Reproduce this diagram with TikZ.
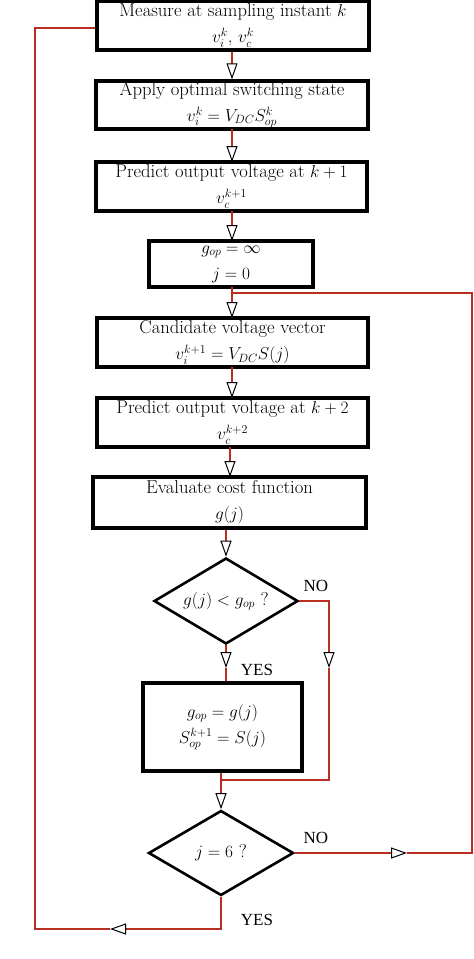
\documentclass[tikz,border=0pt]{standalone}
\usepackage{fontspec}
\newfontfamily\timesf{Liberation Serif}
\usetikzlibrary{arrows.meta,shapes.geometric}
\definecolor{flowred}{RGB}{185,45,35}
\tikzset{
  box/.style={draw=black,line width=3.5pt,rectangle,inner sep=0pt,align=center,
    font=\fontsize{18.6}{26}\selectfont},
  dec/.style={draw=black,line width=2.6pt,diamond,aspect=1.67,inner sep=0pt,
    font=\fontsize{18.6}{26}\selectfont},
  flow/.style={draw=flowred,line width=2.2pt},
  tip/.style={-{Triangle[length=16pt,width=11pt,color=black,fill=white,line width=1pt]}},
  lbl/.style={font=\timesf\fontsize{17}{20}\selectfont,inner sep=0pt}
}
\begin{document}
\begin{tikzpicture}[x=1pt,y=-1pt]
\useasboundingbox (0,0) rectangle (474,959);
% boxes
\node[box,minimum width=272pt,minimum height=49pt] (b1) at (233,25.5)
  {Measure at sampling instant $k$\\$v_i^k$, $v_c^k$};
\node[box,minimum width=272pt,minimum height=48pt] (b2) at (232,105)
  {Apply optimal switching state\\$v_i^k = V_{DC}S_{op}^k$};
\node[box,minimum width=271pt,minimum height=49pt] (b3) at (231.5,186.5)
  {Predict output voltage at $k+1$\\$v_c^{k+1}$};
\node[box,minimum width=164pt,minimum height=46pt] (b4) at (231,264)
  {$g_{op}=\infty$\\$j=0$};
\node[box,minimum width=271pt,minimum height=49pt] (b5) at (232.5,342.5)
  {Candidate voltage vector\\$v_i^{k+1} = V_{DC}S(j)$};
\node[box,minimum width=271pt,minimum height=49pt] (b6) at (232.5,422.5)
  {Predict output voltage at $k+2$\\$v_c^{k+2}$};
\node[box,minimum width=273pt,minimum height=51pt] (b7) at (229.5,502.5)
  {Evaluate cost function\\$g(j)$};
\node[dec,minimum width=144pt,minimum height=86pt] (d1) at (226,601)
  {$g(j) < g_{op}$ ?};
\node[box,minimum width=159pt,minimum height=88pt] (b8) at (222.5,727)
  {$g_{op} = g(j)$\\$S_{op}^{k+1} = S(j)$};
\node[dec,minimum width=145pt,minimum height=85pt] (d2) at (221,853)
  {$j = 6$ ?};
% labels
\node[lbl] (no1) at (316,586) {NO};
\node[lbl] (yes1) at (257,670) {YES};
\node[lbl] (no2) at (316,838) {NO};
\node[lbl] (yes2) at (257,920) {YES};
% junction coordinates
\coordinate (j1) at (232,293);
\coordinate (j2) at (221,780);
\coordinate (n1a) at (329,601);
\coordinate (n1m) at (329,668);
\coordinate (n1b) at (329,780);
\coordinate (y1m) at (226,668);
\coordinate (n2m) at (407,853);
\coordinate (n2a) at (472,853);
\coordinate (n2b) at (472,293);
\coordinate (y2a) at (221,929);
\coordinate (y2m) at (110,929);
\coordinate (y2b) at (35,929);
\coordinate (y2c) at (35,28);
% main flow
\draw[flow,tip] (b2.north |- b1.south) -- (b2.north);
\draw[flow,tip] (232,129) -- (232,162);
\draw[flow,tip] (232,211) -- (232,241);
\draw[flow] (232,287) -- (j1);
\draw[flow,tip] (j1) -- (232,318);
\draw[flow,tip] (232,367) -- (232,398);
\draw[flow,tip] (230,447) -- (230,477);
\draw[flow,tip] (d1.north |- b7.south) -- (d1.north);
\draw[flow,tip] (d1.south) -- (y1m);
\draw[flow] (y1m) -- (y1m |- b8.north);
\draw[flow] (j2 |- b8.south) -- (j2);
\draw[flow,tip] (j2) -- (d2.north);
% NO branch of d1
\draw[flow,tip] (d1.east) -- (n1a) -- (n1m);
\draw[flow] (n1m) -- (n1b) -- (j2);
% NO branch of d2
\draw[flow,tip] (d2.east) -- (n2m);
\draw[flow] (n2m) -- (n2a) -- (n2b) -- (j1);
% YES branch of d2
\draw[flow,tip] (d2.south) -- (y2a) -- (y2m);
\draw[flow] (y2m) -- (y2b) -- (y2c) -- (b1.west |- y2c);
\end{tikzpicture}
\end{document}
